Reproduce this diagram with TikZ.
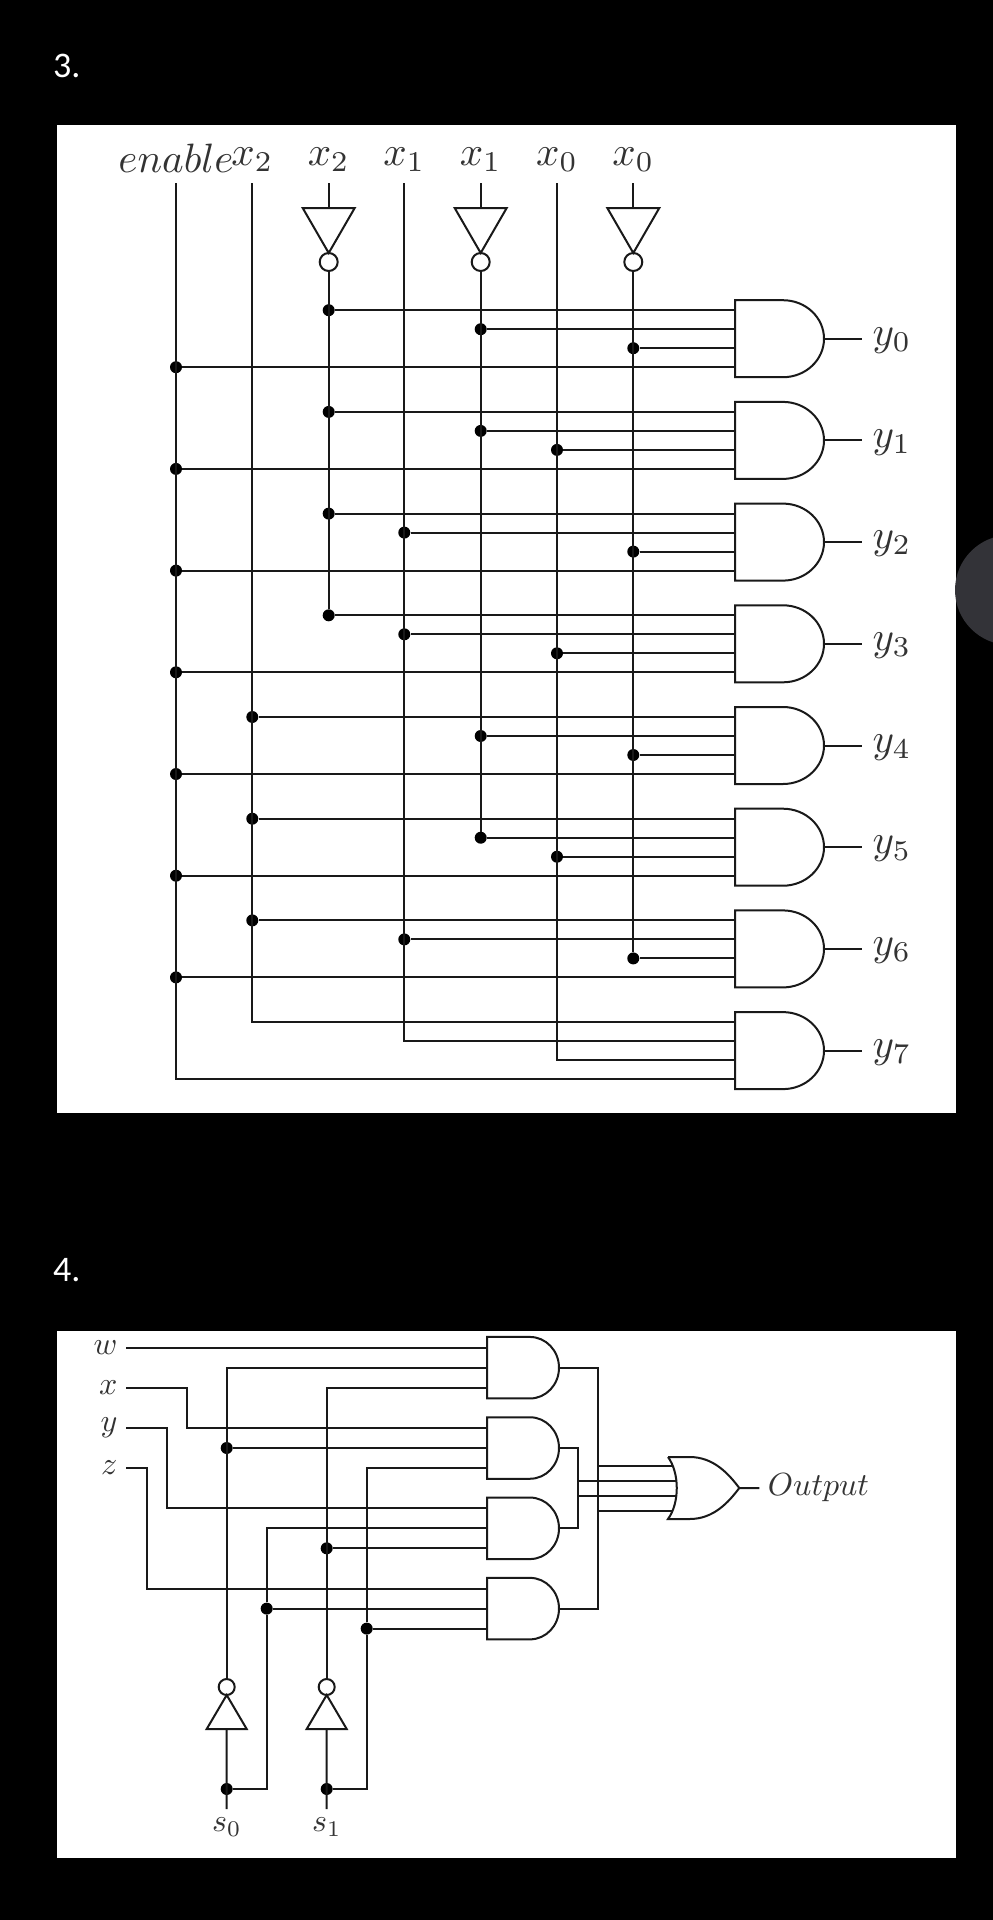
\documentclass[tikz,border=0pt]{standalone}
\usepackage{fontspec}
\newfontfamily\notefont{Carlito}
\definecolor{tabgray}{RGB}{51,51,56}
\begin{document}
\begin{tikzpicture}[x=1pt,y=-1pt,
                wire/.style = {line width=2pt, black!90},
                pics/andgate/.style n args = {5}{code = {
                    \draw[wire] (#3,-#2) -- (-#1,-#2) -- (-#1,#2) -- (#3,#2)
                        .. controls ({#3+0.5523*(#1-#3)},#2) and (#1,{0.5523*#2}) .. (#1,0)
                        .. controls (#1,{-0.5523*#2}) and ({#3+0.5523*(#1-#3)},-#2) .. (#3,-#2);
                    \coordinate (-out) at (#1,0);
                    \foreach \k in {1,...,#5} {
                        \coordinate (-in\k) at (-#1,{(\k-(#5+1)/2)*#4});
                    }
                }},
                pics/orgate/.style = {code = {
                    \draw[wire] (-35.7,-31) -- (-14,-31) .. controls (10,-31) and (25,-14) .. (35.6,0)
                        .. controls (25,14) and (10,31) .. (-14,31) -- (-35.7,31)
                        .. controls (-24,15) and (-24,-15) .. (-35.7,-31);
                    \coordinate (-out) at (35.6,0);
                    \coordinate (-in1) at (-31.5,-22.5);
                    \coordinate (-in2) at (-27.5,-7.5);
                    \coordinate (-in3) at (-27.5,7.5);
                    \coordinate (-in4) at (-31.5,22.5);
                }},
                pics/notgate/.style n args = {3}{code = {
                    \draw[wire] (-#1,0) -- (#1,0) -- (0,#2) -- cycle;
                    \draw[wire] (0,{#2+#3}) circle (#3);
                    \coordinate (-in) at (0,0);
                    \coordinate (-out) at (0,{#2+2*#3});
                }},
                junction/.style = {circle, fill=black, inner sep=0pt, minimum size=12pt},
                biglabel/.style = {scale=4.1, inner sep=2.4pt, black!80},
                lowlabel/.style = {scale=3.2, inner sep=2.5pt, black!80},
                numlabel/.style = {white, anchor=west, inner sep=0pt, font=\notefont\fontsize{36}{36}\selectfont}
            ]
            \useasboundingbox (0,0) rectangle (993,1920);
            \fill[black] (0,0) rectangle (993,1920);
            \fill[white] (57,125) rectangle (956,1113);
            \fill[white] (57,1331) rectangle (956,1858);
            \begin{scope}
                \clip (0,0) rectangle (993,1920);
                \fill[tabgray] (1010,590) circle (55);
            \end{scope}
            \node[numlabel] (three) at (53,66) {3.};
            \node[numlabel] (four) at (53,1270) {4.};

            \foreach \n/\x/\h/\t in {en/176/158/enable, x2/252.3/160/x_2, nx2/328.7/160/x_2, x1/404.3/160/x_1,
                    nx1/480.7/160/x_1, x0/557/160/x_0, nx0/633.3/160/x_0} {
                \node[biglabel] (\n) at (\x,\h) {$\t$};
                \coordinate (top\n) at (\x,183);
            }
            \foreach \n in {x2,x1,x0} {
                \path (n\n |- 0,208) pic (inv\n) {notgate={26}{45}{9}};
            }
            \foreach \g in {0,...,7} {
                \pic (g\g) at (779.5,{338.7+101.7*\g}) {andgate={44.5}{38.5}{3.5}{19}{4}};
                \node[biglabel, anchor=west, yshift=-0.45pt] (y\g) at ([xshift=38pt]g\g-out) {$y_\g$};
                \draw[wire] (g\g-out) -- (y\g.west |- g\g-out);
            }
            \foreach \g/\p/\q/\r in {0/nx2/nx1/nx0, 1/nx2/nx1/x0, 2/nx2/x1/nx0, 3/nx2/x1/x0,
                    4/x2/nx1/nx0, 5/x2/nx1/x0, 6/x2/x1/nx0} {
                \foreach \k/\col in {1/\p, 2/\q, 3/\r, 4/en} {
                    \node[junction] (j\g\k) at (\col |- g\g-in\k) {};
                    \draw[wire] (j\g\k) -- (g\g-in\k);
                }
            }
            \draw[wire] (topen) |- (g7-in4);
            \draw[wire] (topx2) |- (g7-in1);
            \draw[wire] (topx1) |- (g7-in2);
            \draw[wire] (topx0) |- (g7-in3);
            \draw[wire] (topnx2) -- (invx2-in);
            \draw[wire] (topnx1) -- (invx1-in);
            \draw[wire] (topnx0) -- (invx0-in);
            \draw[wire] (invx2-out) -- (j31);
            \draw[wire] (invx1-out) -- (j52);
            \draw[wire] (invx0-out) -- (j63);

            \foreach \h in {1,...,4} {
                \pic (h\h) at (523,{1367.7+80.3*(\h-1)}) {andgate={36}{30.75}{7}{20}{3}};
            }
            \pic (or) at (703.7,1488) {orgate};
            \node[lowlabel, anchor=west] (out) at ([xshift=20pt]or-out) {$Output$};
            \draw[wire] (or-out) -- (out);
            \coordinate (busa) at (598,1488);
            \coordinate (busb) at (577.7,1488);
            \draw[wire] (h1-out) -| (busa) |- (or-in1);
            \draw[wire] (h2-out) -| (busb) |- (or-in2);
            \draw[wire] (h3-out) -| (busb) |- (or-in3);
            \draw[wire] (h4-out) -| (busa) |- (or-in4);

            \node[lowlabel, anchor=east] (w) at (126,0 |- h1-in1) {$w$};
            \node[lowlabel, anchor=east] (x) at (126,0 |- h1-in3) {$x$};
            \node[lowlabel, anchor=east] (y) at (126,0 |- h2-in1) {$y$};
            \node[lowlabel, anchor=east] (z) at (126,0 |- h2-in3) {$z$};
            \coordinate (bendx) at (186.7,1408);
            \coordinate (bendy) at (166.7,1468);
            \coordinate (bendz) at (146.7,1528);
            \draw[wire] (w) -- (h1-in1);
            \draw[wire] (x) -| (bendx) |- (h2-in1);
            \draw[wire] (y) -| (bendy) |- (h3-in1);
            \draw[wire] (z) -| (bendz) |- (h4-in1);

            \node[lowlabel] (s0) at (226.7,1827) {$s_0$};
            \node[lowlabel] (s1) at (326.7,1827) {$s_1$};
            \path (s0 |- 0,1729) pic[rotate=180] (inva) {notgate={20}{34}{8}};
            \path (s1 |- 0,1729) pic[rotate=180] (invb) {notgate={20}{34}{8}};
            \node[junction] (js0) at (s0 |- 0,1789) {};
            \node[junction] (js1) at (s1 |- 0,1789) {};
            \node[junction] (ja) at (266.7,0 |- h4-in2) {};
            \node[junction] (jb) at (366.7,0 |- h4-in3) {};
            \node[junction] (jc) at (s0 |- h2-in2) {};
            \node[junction] (jd) at (s1 |- h3-in3) {};
            \draw[wire] (s0) -- (inva-in);
            \draw[wire] (s1) -- (invb-in);
            \draw[wire] (inva-out) |- (h1-in2);
            \draw[wire] (invb-out) |- (h1-in3);
            \draw[wire] (js0) -| (ja);
            \draw[wire] (js1) -| (jb);
            \draw[wire] (ja) |- (h3-in2);
            \draw[wire] (jb) |- (h2-in3);
            \draw[wire] (ja) -- (h4-in2);
            \draw[wire] (jb) -- (h4-in3);
            \draw[wire] (jc) -- (h2-in2);
            \draw[wire] (jd) -- (h3-in3);
        \end{tikzpicture}
\end{document}
